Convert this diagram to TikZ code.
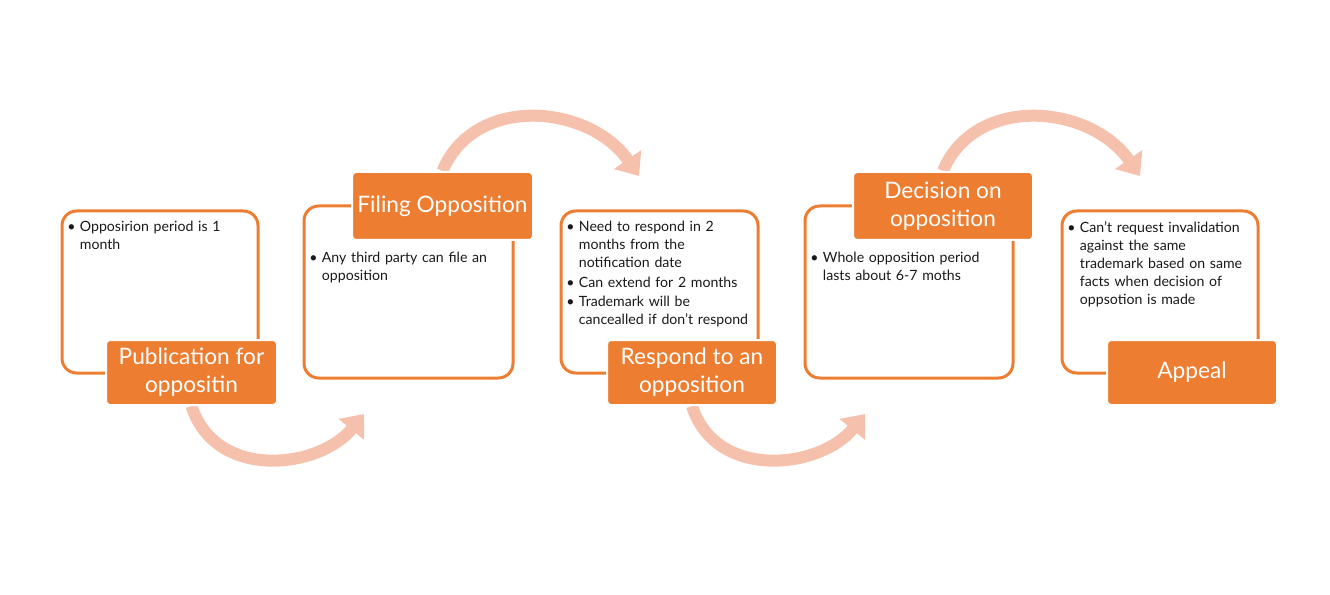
\documentclass[tikz,border=0pt]{standalone}
\usepackage{fontspec}
\setmainfont{Lato}
\usetikzlibrary{arrows.meta,backgrounds}
\definecolor{orangeA}{RGB}{237,125,49}
\definecolor{salmonA}{RGB}{245,193,172}
\newcommand{\bodyfnt}{\fontsize{10.6}{13.5}\selectfont}
\newcommand{\lblfnt}{\fontsize{17}{21}\selectfont}
\newcommand{\bitem}[1]{\hangindent=9.5pt\hangafter=1\noindent\makebox[9.5pt][l]{\textbullet}#1\par\vspace{1pt}}
\begin{document}
\begin{tikzpicture}[x=0.75pt,y=-0.75pt]
\tikzset{
  card/.style={draw=orangeA, line width=2.25pt, rounded corners=11pt, fill=white, inner sep=0pt},
  lbl/.style={fill=orangeA, draw=white, line width=1.5pt, rounded corners=3pt, text=white,
              font=\lblfnt, align=center, inner sep=0pt},
  flow/.style={draw=salmonA, line width=9pt, -{Triangle[width=24pt,length=15pt]}},
  body/.style={anchor=north west, inner sep=0pt, text width=145pt, font=\bodyfnt, text=black!90}
}
\useasboundingbox (0,0) rectangle (1330,595);
% cards
\node[card, minimum width=147pt, minimum height=121.5pt] (c1) at (160,292) {};
\node[card, minimum width=156.75pt, minimum height=129pt] (c2) at (408.5,292) {};
\node[card, minimum width=147.75pt, minimum height=121.5pt] (c3) at (659.5,292) {};
\node[card, minimum width=156pt, minimum height=129pt] (c4) at (909,292) {};
\node[card, minimum width=147pt, minimum height=121.5pt] (c5) at (1160,292) {};
% labels
\node[lbl, minimum width=128.25pt, minimum height=48.75pt] (l1) at (191.5,372.5) {Publication for\\oppositin};
\node[lbl, minimum width=135.75pt, minimum height=51pt] (l2) at (442.5,206) {Filing Opposition};
\node[lbl, minimum width=127.5pt, minimum height=48.75pt] (l3) at (692,372.5) {Respond to an\\opposition};
\node[lbl, minimum width=135pt, minimum height=51pt] (l4) at (943,206) {Decision on\\opposition};
\node[lbl, minimum width=127.5pt, minimum height=48.75pt] (l5) at (1192,372.5) {Appeal};
% texts
\node[body] (t1) at (67,221) {\bitem{Opposirion period is 1\newline month}};
\node[body] (t2) at (309,252) {\bitem{Any third party can file an\newline opposition}};
\node[body] (t3) at (566,221) {\bitem{Need to respond in 2\newline months from the\newline notification date}\bitem{Can extend for 2 months}\bitem{Trademark will be\newline cancealled if don't respond}};
\node[body] (t4) at (810,252) {\bitem{Whole opposition period\newline lasts about 6-7 moths}};
\node[body] (t5) at (1067,221) {\bitem{Can't request invalidation\newline against the same\newline trademark based on same\newline facts when decision of\newline oppsotion is made}};
% arrow end points
\coordinate (e1) at (364,414);
\coordinate (e2) at (639,176);
\coordinate (e3) at (865,414);
\coordinate (e4) at (1140,176);
\begin{scope}[on background layer]
\draw[flow] (l1.south) .. controls +(24,75) and +(-45,55) .. (e1);
\draw[flow] (l2.north) .. controls +(32,-77) and +(-50,-72) .. (e2);
\draw[flow] (l3.south) .. controls +(24,75) and +(-45,55) .. (e3);
\draw[flow] (l4.north) .. controls +(32,-77) and +(-50,-72) .. (e4);
\end{scope}
\end{tikzpicture}
\end{document}
